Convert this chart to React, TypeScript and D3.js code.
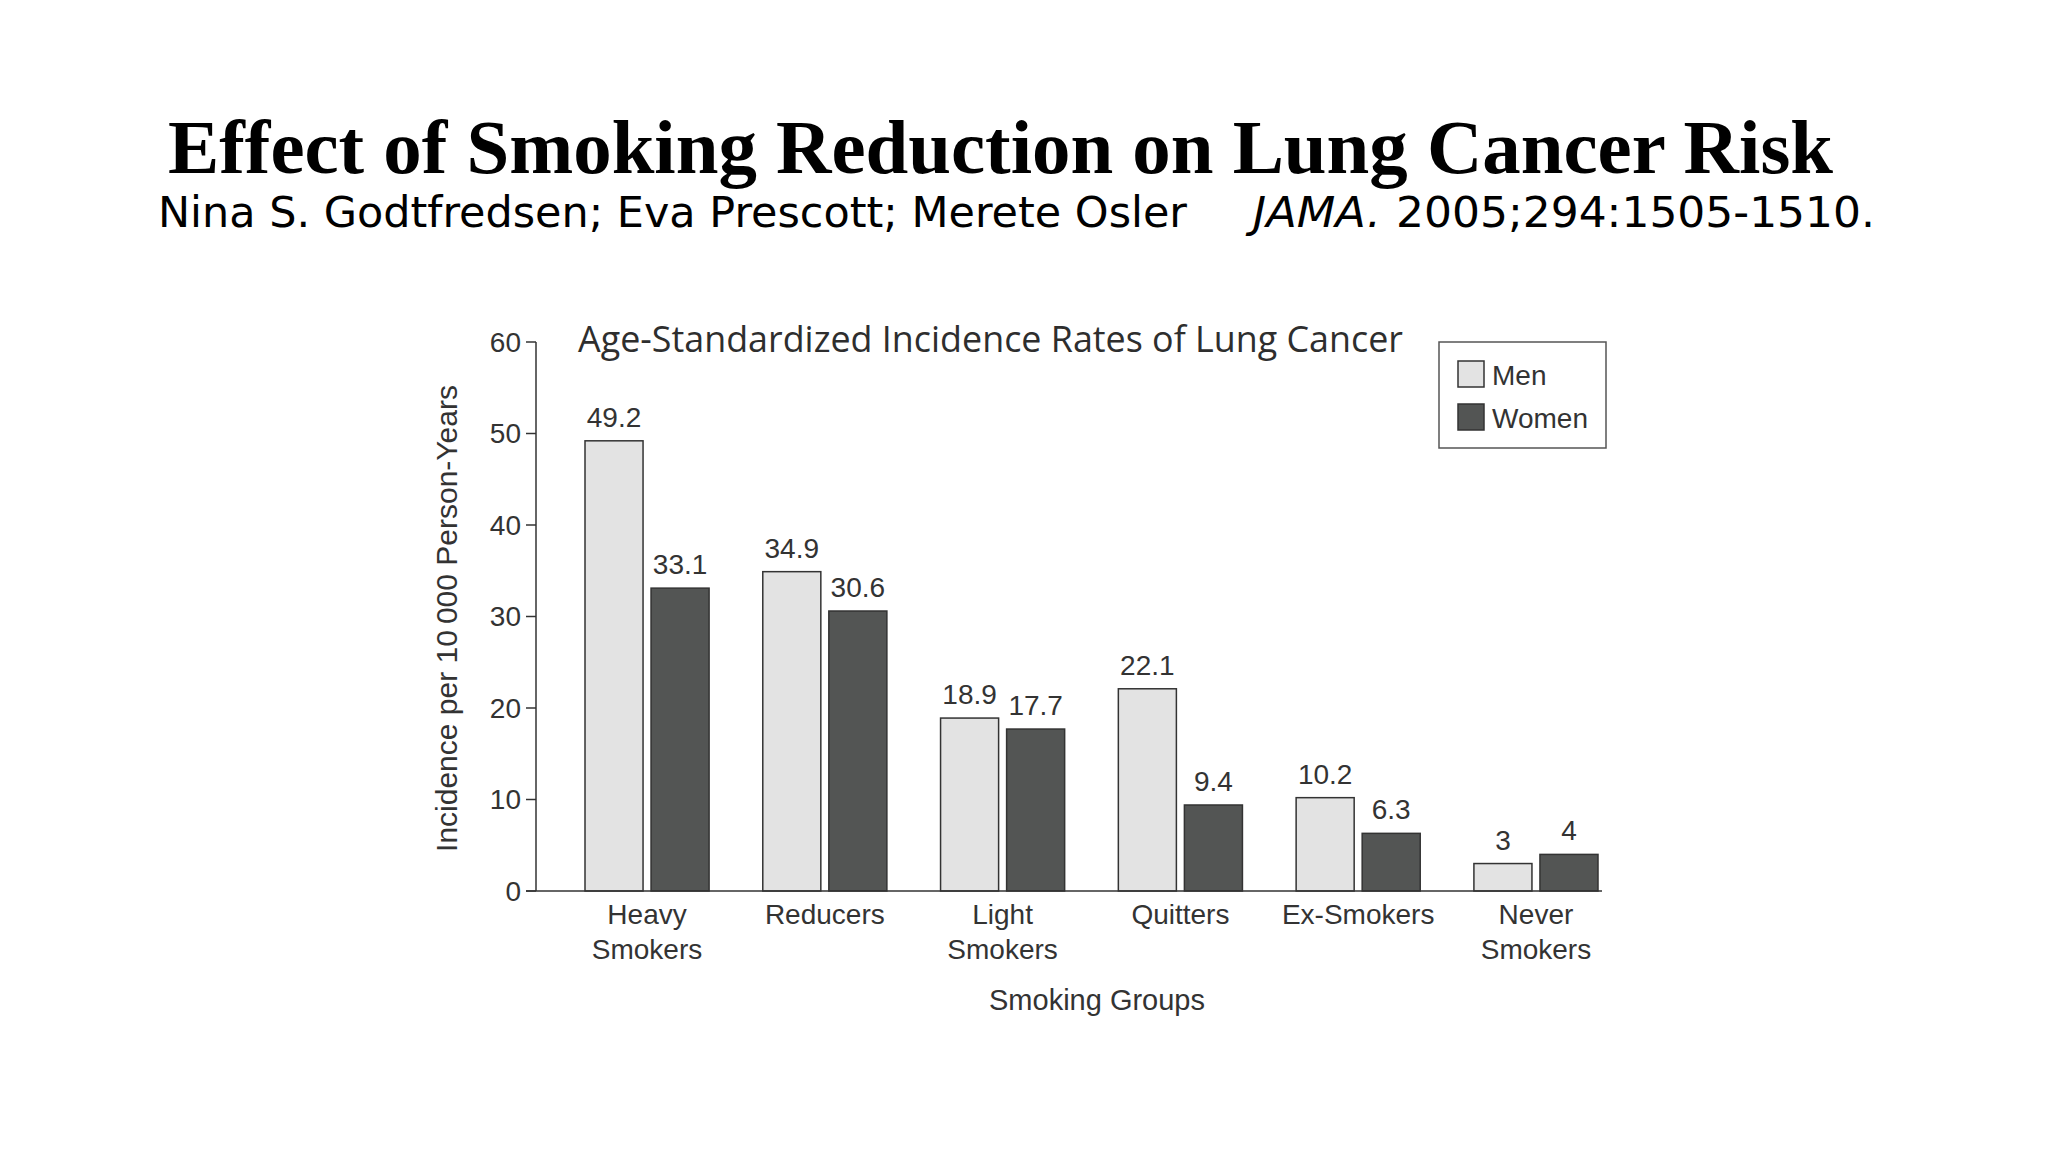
import React from "react";
import * as d3 from "d3";

// Smoking groups (label lines) and age-standardized incidence per 10 000 person-years
const groupLines: string[][] = [
  ["Heavy", "Smokers"],
  ["Reducers"],
  ["Light", "Smokers"],
  ["Quitters"],
  ["Ex-Smokers"],
  ["Never", "Smokers"],
];
const groups = groupLines.map((l) => l.join(" "));
const menRates = [49.2, 34.9, 18.9, 22.1, 10.2, 3];
const womenRates = [33.1, 30.6, 17.7, 9.4, 6.3, 4];
const seriesNames = ["Men", "Women"];
const seriesFill: Record<string, string> = { Men: "#e3e3e3", Women: "#535554" };

const W = 2048;
const H = 1152;
const plot = { left: 536, right: 1598, top: 342, bottom: 891, firstBand: 585 };
const ink = "#333333";
const sans = "'Liberation Sans', Arial, Helvetica, sans-serif";

export default function App() {
  const y = d3.scaleLinear().domain([0, 60]).range([plot.bottom, plot.top]);
  const x0 = d3
    .scaleBand<string>()
    .domain(groups)
    .range([plot.firstBand, plot.right])
    .paddingInner(0.302)
    .paddingOuter(0);
  const x1 = d3
    .scaleBand<string>()
    .domain(seriesNames)
    .range([0, x0.bandwidth()])
    .paddingInner(0.1212)
    .paddingOuter(0);

  const rows = groups.map((g, i) => ({
    group: g,
    values: [
      { key: "Men", value: menRates[i] },
      { key: "Women", value: womenRates[i] },
    ],
  }));

  const tickLen = 10;
  const axisRight = (x0(groups[groups.length - 1]) ?? 0) + x0.bandwidth() + 4;

  return (
    <svg
      width={W}
      height={H}
      viewBox={`0 0 ${W} ${H}`}
      style={{ position: "absolute", left: 0, top: 0, background: "#ffffff" }}
    >
      <rect x={0} y={0} width={W} height={H} fill="#ffffff" />

      {/* Slide heading */}
      <text
        x={168}
        y={173}
        fontFamily="'Liberation Serif', 'Times New Roman', serif"
        fontWeight="bold"
        fontSize={76}
        textLength={1665}
        lengthAdjust="spacingAndGlyphs"
        fill="#000"
      >
        Effect of Smoking Reduction on Lung Cancer Risk
      </text>
      <g fontFamily="'DejaVu Sans', Verdana, sans-serif" fontSize={43} fill="#000">
        <text x={158} y={227} textLength={1029} lengthAdjust="spacingAndGlyphs">
          Nina S. Godtfredsen; Eva Prescott; Merete Osler
        </text>
        <text x={1253} y={227} fontStyle="italic" textLength={128} lengthAdjust="spacingAndGlyphs">
          JAMA.
        </text>
        <text x={1396} y={227} textLength={479} lengthAdjust="spacingAndGlyphs">
          2005;294:1505-1510.
        </text>
      </g>

      {/* Chart title */}
      <text
        x={578}
        y={352}
        fontFamily="'Open Sans', 'Noto Sans', sans-serif"
        fontSize={37}
        textLength={825}
        lengthAdjust="spacingAndGlyphs"
        fill="#2e2e2e"
      >
        Age-Standardized Incidence Rates of Lung Cancer
      </text>

      {/* Y axis */}
      <g fontFamily={sans} fontSize={28} fill={ink}>
        <line x1={plot.left} x2={plot.left} y1={y(60)} y2={y(0)} stroke={ink} strokeWidth={1.5} />
        {y.ticks(6).map((t) => (
          <g key={t} transform={`translate(0,${y(t)})`}>
            <line x1={plot.left - tickLen} x2={plot.left} stroke={ink} strokeWidth={1.5} />
            <text x={plot.left - tickLen - 5} dy="0.35em" textAnchor="end">
              {t}
            </text>
          </g>
        ))}
        <text
          transform={`translate(457,${(y(0) + y(60)) / 2 + 2}) rotate(-90)`}
          textAnchor="middle"
          fontSize={30}
        >
          Incidence per 10{"\u2009"}000 Person-Years
        </text>
      </g>

      {/* Bars and value labels */}
      {rows.map((r) => (
        <g key={r.group} transform={`translate(${x0(r.group)},0)`}>
          {r.values.map((v) => {
            const bx = x1(v.key) ?? 0;
            const by = y(v.value);
            return (
              <g key={v.key}>
                <rect
                  x={bx}
                  y={by}
                  width={x1.bandwidth()}
                  height={y(0) - by}
                  fill={seriesFill[v.key]}
                  stroke={ink}
                  strokeWidth={1.5}
                />
                <text
                  x={bx + x1.bandwidth() / 2}
                  y={by - 14}
                  textAnchor="middle"
                  fontFamily={sans}
                  fontSize={28}
                  fill={ink}
                >
                  {String(v.value)}
                </text>
              </g>
            );
          })}
        </g>
      ))}

      {/* X axis */}
      <line
        x1={plot.left - tickLen}
        x2={axisRight}
        y1={y(0)}
        y2={y(0)}
        stroke={ink}
        strokeWidth={1.5}
      />
      <g fontFamily={sans} fontSize={28} fill={ink} textAnchor="middle">
        {groupLines.map((lines, i) => (
          <text key={groups[i]} x={(x0(groups[i]) ?? 0) + x0.bandwidth() / 2} y={924}>
            {lines.map((ln, j) => (
              <tspan key={ln} x={(x0(groups[i]) ?? 0) + x0.bandwidth() / 2} dy={j === 0 ? 0 : 35}>
                {ln}
              </tspan>
            ))}
          </text>
        ))}
        <text x={1097} y={1010} fontSize={29}>
          Smoking Groups
        </text>
      </g>

      {/* Legend */}
      <g fontFamily={sans} fontSize={28} fill={ink}>
        <rect x={1439} y={342} width={167} height={106} fill="#fff" stroke="#555" strokeWidth={1.5} />
        {seriesNames.map((s, i) => (
          <g key={s} transform={`translate(1458,${361 + i * 43})`}>
            <rect width={26} height={26} fill={seriesFill[s]} stroke={ink} strokeWidth={1.5} />
            <text x={34} y={24}>
              {s}
            </text>
          </g>
        ))}
      </g>
    </svg>
  );
}
